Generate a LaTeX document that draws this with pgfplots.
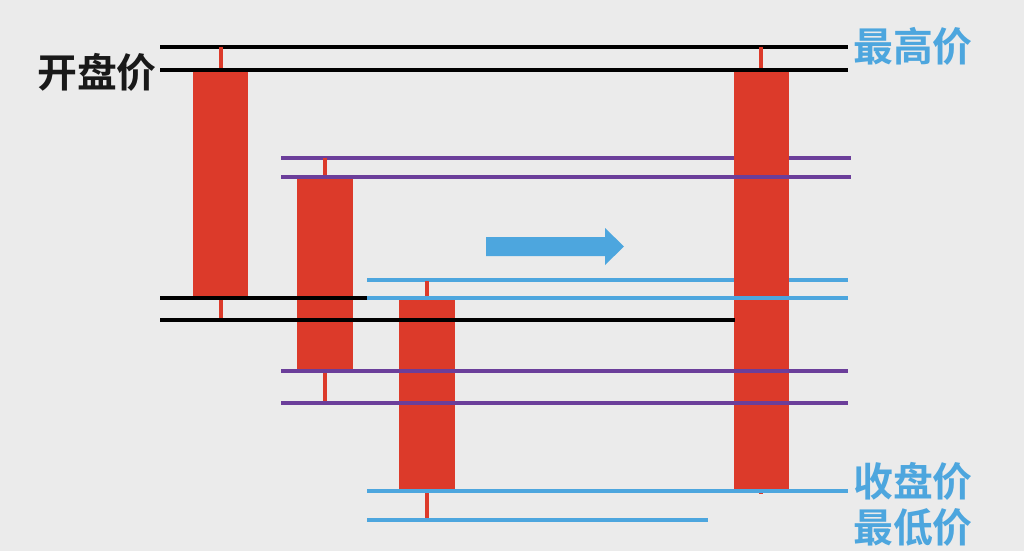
\documentclass[border=0pt]{standalone}
\usepackage{pgfplots}
\pgfplotsset{compat=1.18}
\usepackage{fontspec}
\newfontfamily\cjk{Noto Sans CJK SC Bold}
\definecolor{bg}{HTML}{EBEBEB}
\definecolor{cred}{HTML}{DC3A2A}
\definecolor{cblue}{HTML}{4DA6DE}
\definecolor{cpurple}{HTML}{6B3E9A}
\begin{document}
\begin{tikzpicture}
\clip (0,0) rectangle (1024bp,551bp);
\fill[bg] (0,0) rectangle (1024bp,551bp);
\begin{axis}[
  at={(0,0)}, anchor=south west,
  scale only axis, width=1024bp, height=551bp,
  xmin=0, xmax=1024, ymin=0, ymax=551, y dir=reverse,
  hide axis, clip=false,
]
% horizontal lines: black
\addplot[black, line width=3.2bp] coordinates {(160,47) (848,47)};
\addplot[black, line width=3.2bp] coordinates {(160,70) (848,70)};
\addplot[black, line width=3.2bp] coordinates {(160,298) (367,298)};
\addplot[black, line width=3.2bp] coordinates {(160,320) (735,320)};
% purple
\addplot[cpurple, line width=3.5bp] coordinates {(281,158) (851,158)};
\addplot[cpurple, line width=3.5bp] coordinates {(281,177) (851,177)};
\addplot[cpurple, line width=3.5bp] coordinates {(281,371) (848,371)};
\addplot[cpurple, line width=3.5bp] coordinates {(281,403) (848,403)};
% blue
\addplot[cblue, line width=3.5bp] coordinates {(367,280) (848,280)};
\addplot[cblue, line width=3.5bp] coordinates {(367,298) (848,298)};
% wicks
\addplot[cred, line width=4bp] coordinates {(221,47) (221,318)};
\addplot[cred, line width=4bp] coordinates {(325,158) (325,402)};
\addplot[cred, line width=4bp] coordinates {(427,281) (427,520)};
\addplot[cred, line width=4bp] coordinates {(761,47) (761,494)};
% bodies
\addplot[fill=cred, draw=none] coordinates {(193,70) (248,70) (248,298) (193,298)} --cycle;
\addplot[fill=cred, draw=none] coordinates {(297,177) (353,177) (353,371) (297,371)} --cycle;
\addplot[fill=cred, draw=none] coordinates {(399,300) (455,300) (455,490) (399,490)} --cycle;
\addplot[fill=cred, draw=none] coordinates {(734,70) (789,70) (789,490) (734,490)} --cycle;
% redraw lines over bodies where they cross
\addplot[black, line width=3.2bp] coordinates {(160,298) (367,298)};
\addplot[black, line width=3.2bp] coordinates {(160,320) (735,320)};
\addplot[black, line width=3.2bp] coordinates {(160,70) (848,70)};
\addplot[cpurple, line width=3.5bp] coordinates {(281,371) (848,371)};
\addplot[cpurple, line width=3.5bp] coordinates {(281,403) (848,403)};
\addplot[cpurple, line width=3.5bp] coordinates {(281,177) (851,177)};
\addplot[cblue, line width=3.5bp] coordinates {(367,298) (848,298)};
\addplot[cblue, line width=3.5bp] coordinates {(367,491) (848,491)};
\addplot[cblue, line width=3.5bp] coordinates {(367,520) (708,520)};
% arrow
\addplot[fill=cblue, draw=none] coordinates {(486,237) (605,237) (605,228) (624,246.5) (605,265) (605,256) (486,256)} --cycle;
% labels
\node[anchor=west, inner sep=0pt, font=\cjk\fontsize{40}{44}\selectfont, text=black!90] at (axis cs:37,72) {开盘价};
\node[anchor=west, inner sep=0pt, font=\cjk\fontsize{40}{44}\selectfont, text=cblue] at (axis cs:853,46) {最高价};
\node[anchor=west, inner sep=0pt, font=\cjk\fontsize{40}{44}\selectfont, text=cblue] at (axis cs:853,481) {收盘价};
\node[anchor=west, inner sep=0pt, font=\cjk\fontsize{40}{44}\selectfont, text=cblue] at (axis cs:853,527) {最低价};
\end{axis}
\end{tikzpicture}
\end{document}
